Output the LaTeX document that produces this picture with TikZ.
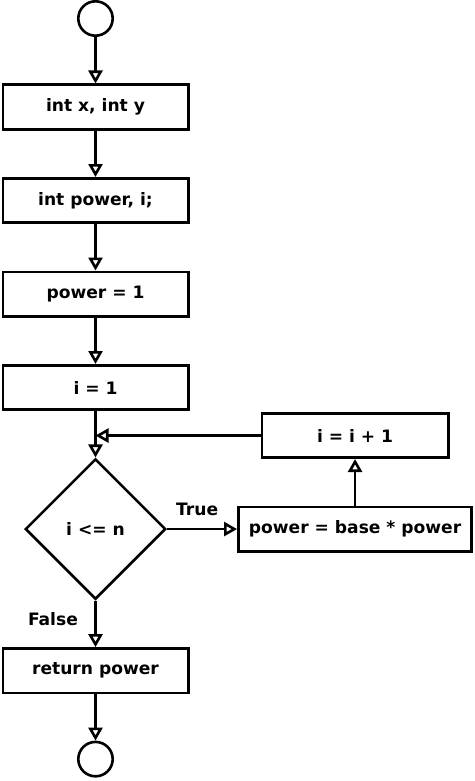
\documentclass[tikz,border=0pt]{standalone}
\usepackage{fontspec}
\setmainfont{DejaVu Sans}
\usetikzlibrary{arrows.meta,positioning,shapes.geometric}
\definecolor{Flow}{RGB}{0,0,0}
\tikzset{
  fbase/.style={draw=Flow,line width=2.6pt,align=center,font=\fontsize{17.1}{20}\selectfont\bfseries,inner sep=2pt},
  fterm/.style={fbase,circle,minimum size=34.4pt},
  fproc/.style={fbase,rectangle,minimum width=185.4pt,minimum height=44.4pt},
  fdec/.style={fbase,diamond,aspect=1,minimum size=140.5pt},
  farr/.style={-{Triangle[open,length=13pt,width=14pt]},line width=2.6pt,draw=Flow},
  flab/.style={font=\fontsize{17.1}{20}\selectfont\bfseries,text=Flow}
}

\begin{document}
\begin{tikzpicture}[x=1pt,y=1pt,node distance=46.5pt]
\useasboundingbox (0,0) rectangle (474,-781);
\node[fterm] (start) at (95.5,-18.5) {};
\node[fproc, below=of start] (args) {int x, int y};
\node[fproc, below=of args] (decl) {int power, i;};
\node[fproc, below=of decl] (pow) {power = 1};
\node[fproc, below=of pow] (init) {i = 1};
\node[fdec, below=of init] (cond) {i <= n};
\node[fproc, right=70pt of cond, minimum width=233.4pt] (body) {power = base * power};
\node[fproc, above=of body, minimum width=186.4pt] (incr) {i = i + 1};
\node[fproc, below=of cond] (ret) {return power};
\node[fterm, below=of ret] (stop) {};
\coordinate (join) at (cond.north |- incr.west);
\draw[farr] (start) -- (args);
\draw[farr] (args) -- (decl);
\draw[farr] (decl) -- (pow);
\draw[farr] (pow) -- (init);
\draw[farr] (init) -- (cond);
\draw[farr] (incr) -- (join);
\draw[farr] (cond) -- node[flab,above=9pt,pos=0.43]{True} (body);
\draw[farr] (body) -- (incr);
\draw[farr] (cond) -- node[flab,left=13pt,pos=0.4]{False} (ret);
\draw[farr] (ret) -- (stop);
\end{tikzpicture}
\end{document}
